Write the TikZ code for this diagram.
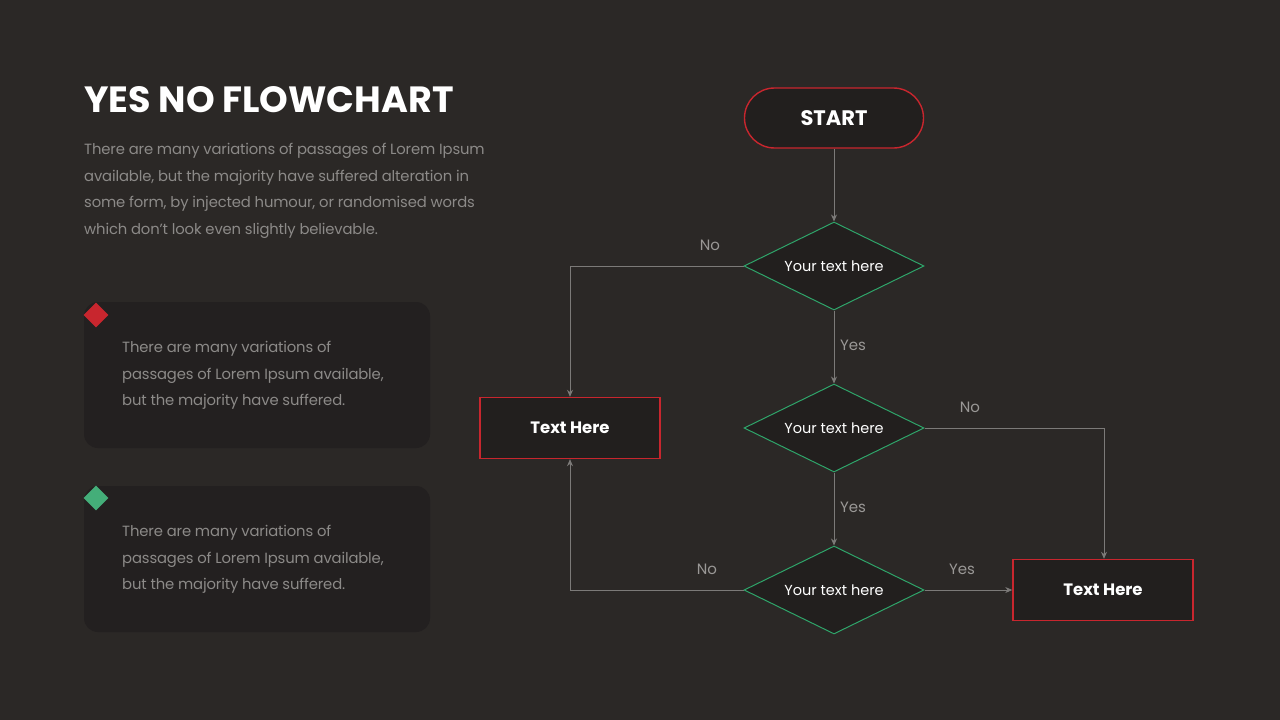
\documentclass[tikz,border=0pt]{standalone}
\usepackage{fontspec}
\setmainfont{Poppins}
\usetikzlibrary{shapes.geometric,arrows.meta}
\definecolor{bg}{HTML}{2B2826}
\definecolor{card}{HTML}{232020}
\definecolor{nodefill}{HTML}{221F1E}
\definecolor{red1}{HTML}{C8262E}
\definecolor{grn}{HTML}{2FA56A}
\definecolor{txtg}{HTML}{8C8A88}
\definecolor{lab}{HTML}{9A9896}
\definecolor{arr}{HTML}{7C7A78}
\tikzset{
 dec/.style={shape=diamond,draw=grn,line width=1pt,fill=nodefill,minimum width=180pt,minimum height=88pt,aspect=2,inner sep=0pt,text=white,font=\fontsize{14.5}{16}\selectfont},
 rbox/.style={draw=red1,line width=1.4pt,fill=nodefill,minimum width=180pt,minimum height=61pt,text=white,font=\fontsize{16.5}{18}\selectfont\bfseries},
 conn/.style={draw=arr,line width=0.8pt,-{Stealth[length=7pt,width=6pt]}},
 lbl/.style={text=lab,font=\fontsize{15}{17}\selectfont},
 para/.style={text=txtg,anchor=north west,align=left,inner sep=0pt,font=\fontsize{14.8}{26.5}\selectfont\addfontfeatures{LetterSpace=-1}}
}
\begin{document}
\begin{tikzpicture}[x=1pt,y=-1pt]
\fill[bg] (0,0) rectangle (1280,720);
\useasboundingbox (0,0) rectangle (1280,720);
% title and paragraph
\node[anchor=west,inner sep=0pt,text=white,font=\fontsize{36.5}{40}\selectfont\bfseries] (title) at (84,100) {YES NO FLOWCHART};
\node[para] (intro) at (84,143) {There are many variations of passages of Lorem Ipsum\\available, but the majority have suffered alteration in\\some form, by injected humour, or randomised words\\which don't look even slightly believable.};
% cards
\fill[card,rounded corners=14pt] (84,302) rectangle (430,448);
\fill[card,rounded corners=14pt] (84,486) rectangle (430,632);
\node[shape=diamond,fill=red1,minimum width=25pt,minimum height=25pt,inner sep=0pt] (m1) at (96,315) {};
\node[shape=diamond,fill=grn!90!white,minimum width=25pt,minimum height=25pt,inner sep=0pt] (m2) at (96,498) {};
\node[para] (c1) at (122,341) {There are many variations of\\passages of Lorem Ipsum available,\\but the majority have suffered.};
\node[para] (c2) at (122,525) {There are many variations of\\passages of Lorem Ipsum available,\\but the majority have suffered.};
% flowchart
\node[draw=red1,line width=1.4pt,fill=nodefill,rounded corners=30pt,minimum width=179pt,minimum height=60pt,text=white,font=\fontsize{21}{24}\selectfont\bfseries] (start) at (834,118) {START};
\node[dec] (d1) at (834,266) {Your text here};
\node[dec] (d2) at (834,428) {Your text here};
\node[dec] (d3) at (834,590) {Your text here};
\node[rbox] (b1) at (570,428) {Text Here};
\node[rbox] (b2) at (1103,590) {Text Here};
\coordinate (k1) at (570,266);
\coordinate (k2) at (1104,428);
\coordinate (k3) at (570,590);
\draw[conn] (start.south) -- (d1.north);
\draw[conn] (d1.west) -- (k1) -- (b1.north);
\draw[conn] (d1.south) -- (d2.north);
\draw[conn] (d2.east) -- (k2) -- (b2.north -| k2);
\draw[conn] (d2.south) -- (d3.north);
\draw[conn] (d3.west) -- (k3) -- (b1.south);
\draw[conn] (d3.east) -- (b2.west);
\node[lbl] (l1) at (710,245) {No};
\node[lbl] (l2) at (853,345) {Yes};
\node[lbl] (l3) at (970,407) {No};
\node[lbl] (l4) at (853,507) {Yes};
\node[lbl] (l5) at (707,569) {No};
\node[lbl] (l6) at (962,569) {Yes};
\end{tikzpicture}
\end{document}
